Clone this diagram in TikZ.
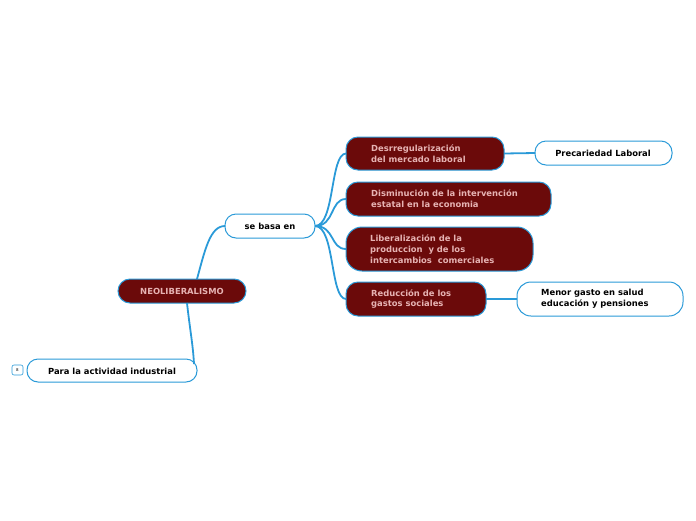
\documentclass[tikz,border=0pt]{standalone}
\usepackage{fontspec}
\setmainfont{DejaVu Sans}
\begin{document}
\begin{tikzpicture}[x=1pt,y=-1pt,
  line/.style={draw=lb,line width=1.8pt},
  dark/.style={draw=lb,line width=1pt,fill=dr,rounded corners=12pt},
  white/.style={draw=lb,line width=1pt,fill=white,rounded corners=11pt},
  dt/.style={font=\bfseries\fontsize{8.4}{10.8}\selectfont,text=pk,align=left,anchor=west,inner sep=0pt},
  wt/.style={font=\bfseries\fontsize{8.4}{10.8}\selectfont,text=black,align=left,inner sep=0pt}]
\definecolor{lb}{HTML}{2A9AD8}
\definecolor{dr}{HTML}{6B0A0A}
\definecolor{pk}{HTML}{E6B3B3}
\useasboundingbox (0,0) rectangle (696,520);
\path[dark] (118,279) rectangle (246,303); \node[wt,text=pk] (neo) at (182,291) {NEOLIBERALISMO};
\path[white] (225,214) rectangle (315,238); \node[wt] (sb) at (270,226) {se basa en};
\path[white] (27,359) rectangle (197,382); \node[wt] (pa) at (112,371) {Para la actividad industrial};
\path[draw=lb,line width=0.6pt,fill=white,rounded corners=2pt] (12,365) rectangle (23,375);
\node[font=\fontsize{4}{4}\selectfont] (n8) at (17.5,370) {8};
\path[dark] (346,137) rectangle (504,170);
\node[dt] (d1) at (371,153.5) {Desrregularización\\del mercado laboral};
\path[dark] (346,182) rectangle (551,216);
\node[dt] (d2) at (371,199) {Disminución de la intervención\\estatal en la economia};
\path[dark,rounded corners=16pt] (346,227) rectangle (533,271);
\node[dt] (d3) at (370,249) {Liberalización de la\\produccion~ y de los\\intercambios~ comerciales};
\path[dark] (346,282) rectangle (486,316);
\node[dt] (d4) at (371,299) {Reducción de los\\gastos sociales};
\path[white] (535,141) rectangle (672,165); \node[wt] (pl) at (603,153) {Precariedad Laboral};
\path[white,rounded corners=14pt] (517,282) rectangle (683,316);
\node[wt,anchor=west] (mg) at (541,299) {Menor gasto en salud\\educación y pensiones};
\coordinate (a0) at (197,279); \coordinate (a1) at (225,226);
\draw[line] (a0) .. controls (205,250) and (210,226) .. (a1);
\coordinate (b0) at (187,303); \coordinate (b1) at (194,364);
\draw[line] (b0) .. controls (190,330) and (193,345) .. (b1);
\coordinate (s) at (315,226);
\foreach \y/\n in {153.5/1,199/2,249/3,299/4}{
  \coordinate (e\n) at (346,\y);
  \draw[line] (s) .. controls (335,226) and (330,\y) .. (e\n);}
\coordinate (f0) at (504,153.5); \coordinate (f1) at (535,153);
\draw[line] (f0) .. controls (520,153.5) and (520,153) .. (f1);
\coordinate (g0) at (486,299); \coordinate (g1) at (517,299);
\draw[line] (g0) -- (g1);
\end{tikzpicture}
\end{document}
